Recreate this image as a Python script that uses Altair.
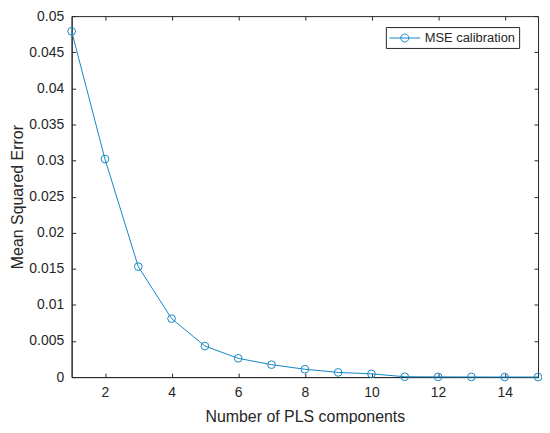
import altair as alt
import pandas as pd

components = list(range(1, 16))
mse = [0.0479, 0.0302, 0.0153, 0.0081, 0.0043, 0.0026, 0.00172, 0.00109,
       0.00065, 0.00045, 0.00005, 0.00003, 0.00002, 0.00001, 0.00001]
series = ["MSE calibration"] * len(components)
x_ticks = [2, 4, 6, 8, 10, 12, 14]
y_ticks = [0, 0.005, 0.01, 0.015, 0.02, 0.025, 0.03, 0.035, 0.04, 0.045, 0.05]

df = pd.DataFrame({"k": components, "mse": mse, "series": series})

W, H = 469, 363
INK = "#262626"
BLUE = "#1587c4"
FONT = "Liberation Sans"

x_enc = alt.X(
    "k:Q",
    scale=alt.Scale(domain=[1, 15], nice=False, zero=False),
    axis=alt.Axis(
        values=x_ticks, title="Number of PLS components", ticks=False, tickSize=0,
        labelPadding=9, titlePadding=9, grid=True, gridColor=INK, gridOpacity=1,
        gridDash=[4, H - 8, 4, 2000], gridWidth=1,
    ),
)
y_enc = alt.Y(
    "mse:Q",
    scale=alt.Scale(domain=[0, 0.05], nice=False),
    axis=alt.Axis(
        values=y_ticks, format="~g", title="Mean Squared Error", ticks=False,
        tickSize=0, labelPadding=8, titlePadding=3, grid=True, gridColor=INK,
        gridOpacity=1, gridDash=[4, W - 8, 4, 2000], gridWidth=1,
    ),
)

color_enc = alt.Color(
    "series:N",
    scale=alt.Scale(domain=["MSE calibration"], range=[BLUE]),
    legend=alt.Legend(
        title=None, orient="none", legendX=316, legendY=11,
        symbolType="M-1,0H3.13M1.6,0A0.53,0.53,0,1,1,0.53,0A0.53,0.53,0,1,1,1.6,0",
        symbolSize=225, symbolStrokeWidth=1, symbolFillColor="transparent",
        symbolStrokeColor=BLUE, labelOffset=20, labelFontSize=13, labelFont=FONT,
        labelColor=INK, padding=3, strokeColor=INK, fillColor="white",
    ),
)

line = alt.Chart(df).mark_line(strokeWidth=1, color=BLUE).encode(x=x_enc, y=y_enc)
points = alt.Chart(df).mark_point(
    shape="circle", filled=False, size=60, strokeWidth=1, opacity=1
).encode(x=x_enc, y=y_enc, color=color_enc)

chart = (
    alt.layer(line, points)
    .properties(
        width=W, height=H,
        autosize=alt.AutoSizeParams(type="none"),
        padding={"left": 64, "top": 7, "right": 4, "bottom": 46},
        background="white",
    )
    .configure_view(stroke=INK, strokeWidth=1)
    .configure_axis(
        domainColor=INK, domainWidth=1, labelFont=FONT, labelFontSize=14,
        labelColor=INK, titleFont=FONT, titleFontSize=16, titleColor=INK,
        titleFontWeight="normal",
    )
)

chart.save("out.html", embed_options={"renderer": "svg", "actions": False})
